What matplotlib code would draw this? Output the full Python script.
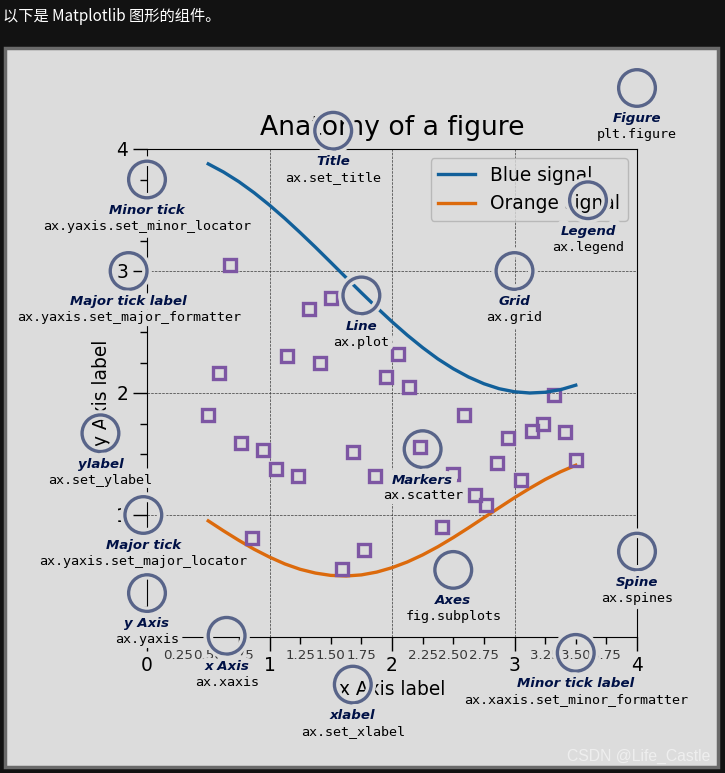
import matplotlib
matplotlib.use("Agg")
import matplotlib.pyplot as plt
from matplotlib.patches import Circle, Rectangle
from matplotlib.patheffects import withStroke
from matplotlib.ticker import AutoMinorLocator, MultipleLocator

# values
line_x = [0.5, 0.625, 0.75, 0.875, 1.0, 1.125, 1.25, 1.375, 1.5, 1.625, 1.75, 1.875,
          2.0, 2.125, 2.25, 2.375, 2.5, 2.625, 2.75, 2.875, 3.0, 3.125, 3.25, 3.375, 3.5]
blue_y = [3.878, 3.811, 3.732, 3.641, 3.540, 3.431, 3.315, 3.195, 3.071, 2.946, 2.822,
          2.701, 2.584, 2.474, 2.372, 2.279, 2.199, 2.131, 2.076, 2.035, 2.010, 2.000,
          2.006, 2.027, 2.064]
orange_y = [0.952, 0.870, 0.792, 0.719, 0.655, 0.599, 0.555, 0.524, 0.505, 0.500, 0.509,
            0.532, 0.568, 0.615, 0.673, 0.740, 0.815, 0.895, 0.978, 1.060, 1.142, 1.219,
            1.291, 1.354, 1.408]

marker_x = [0.50, 0.59, 0.68, 0.77, 0.86, 0.95, 1.05, 1.14, 1.23, 1.32, 1.41, 1.50,
            1.59, 1.68, 1.77, 1.86, 1.95, 2.05, 2.14, 2.23, 2.41, 2.50, 2.59, 2.68,
            2.77, 2.86, 2.95, 3.05, 3.14, 3.23, 3.32, 3.41, 3.50]
marker_y = [1.82, 2.16, 3.05, 1.59, 0.81, 1.53, 1.38, 2.30, 1.32, 2.69, 2.25, 2.78,
            0.56, 1.52, 0.71, 1.32, 2.13, 2.32, 2.05, 1.56, 0.90, 1.34, 1.82, 1.16,
            1.08, 1.43, 1.63, 1.29, 1.69, 1.75, 1.98, 1.68, 1.45]

# (x, y, name, code)
notes = [
    (3.5, -0.13, "Minor tick label", "ax.xaxis.set_minor_formatter"),
    (-0.03, 1.0, "Major tick", "ax.yaxis.set_major_locator"),
    (0.00, 3.75, "Minor tick", "ax.yaxis.set_minor_locator"),
    (-0.15, 3.00, "Major tick label", "ax.yaxis.set_major_formatter"),
    (1.68, -0.39, "xlabel", "ax.set_xlabel"),
    (-0.38, 1.67, "ylabel", "ax.set_ylabel"),
    (1.52, 4.15, "Title", "ax.set_title"),
    (1.75, 2.80, "Line", "ax.plot"),
    (2.25, 1.54, "Markers", "ax.scatter"),
    (3.00, 3.00, "Grid", "ax.grid"),
    (3.60, 3.58, "Legend", "ax.legend"),
    (2.5, 0.55, "Axes", "fig.subplots"),
    (4.0, 4.5, "Figure", "plt.figure"),
    (0.65, 0.01, "x Axis", "ax.xaxis"),
    (0.0, 0.36, "y Axis", "ax.yaxis"),
    (4.0, 0.7, "Spine", "ax.spines"),
]

panel = '#dcdcdc'
navy = '#001146'
ring = '#586489'

fig = plt.figure(figsize=(7.25, 7.73), dpi=100, facecolor='#121212')
fig.add_artist(Rectangle((5 / 725, 1 - 767 / 773), 713 / 725, 719 / 773,
                         transform=fig.transFigure, facecolor=panel,
                         edgecolor='#6a6a6a', linewidth=2.5, zorder=0))
fig.text(3 / 725, 1 - 16 / 773, "以下是 Matplotlib 图形的组件。", color='white',
         fontsize=11, va='center', ha='left',
         family=['Noto Sans CJK SC', 'DejaVu Sans'])
fig.text(710 / 725, 1 - 756 / 773, "CSDN @Life_Castle", color='#f2f2f2', alpha=0.85,
         fontsize=11.3, va='center', ha='right', family='Liberation Sans')

ax = fig.add_axes([147 / 725, 1 - 637 / 773, 490 / 725, 488 / 773])
ax.set_facecolor(panel)

ax.xaxis.set_major_locator(MultipleLocator(1.0))
ax.xaxis.set_minor_locator(AutoMinorLocator(4))
ax.yaxis.set_major_locator(MultipleLocator(1.0))
ax.yaxis.set_minor_locator(AutoMinorLocator(4))
ax.xaxis.set_minor_formatter("{x:.2f}")

ax.set_xlim(0, 4)
ax.set_ylim(0, 4)

ax.tick_params(which='major', width=1.0, length=10, labelsize=13.4)
ax.tick_params(which='minor', width=1.0, length=5, labelsize=9.6, labelcolor='#383838')

ax.grid(linestyle="--", linewidth=0.5, color='#383838', zorder=-10)

ax.plot(line_x, blue_y, c='#12609a', lw=2.4, label="Blue signal", zorder=10)
ax.plot(line_x, orange_y, c='#dc6a0c', lw=2.4, label="Orange signal")
ax.plot(marker_x, marker_y, linewidth=0, markersize=8.6, marker='s',
        markerfacecolor='none', markeredgecolor='#7d56a3', markeredgewidth=2.4)

ax.set_title("Anatomy of a figure", fontsize=19.2, verticalalignment='bottom')
ax.set_xlabel("x Axis label", fontsize=13.4)
ax.set_ylabel("y Axis label", fontsize=13.4)
leg = ax.legend(loc="upper right", fontsize=13.4, facecolor=panel, edgecolor='#b0b0b0')


def annotate(x, y, text, code):
    c = Circle((x, y), radius=0.15, clip_on=False, zorder=10, linewidth=2.4,
               edgecolor=ring, facecolor='none',
               path_effects=[withStroke(linewidth=7, foreground=panel)])
    ax.add_artist(c)
    for effects in [[withStroke(linewidth=7, foreground=panel)], []]:
        color = panel if effects else navy
        ax.text(x, y - 0.2, text, zorder=100, ha='center', va='top',
                weight='bold', color=color, style='italic', fontsize=9.6,
                family='DejaVu Sans', path_effects=effects)
        color = panel if effects else 'black'
        ax.text(x, y - 0.33, code, zorder=100, ha='center', va='top',
                weight='normal', color=color, family='monospace', fontsize=9.6,
                path_effects=effects)


for nx, ny, name, code in notes:
    annotate(nx, ny, name, code)

fig.savefig("out.png", dpi=100, facecolor=fig.get_facecolor())
